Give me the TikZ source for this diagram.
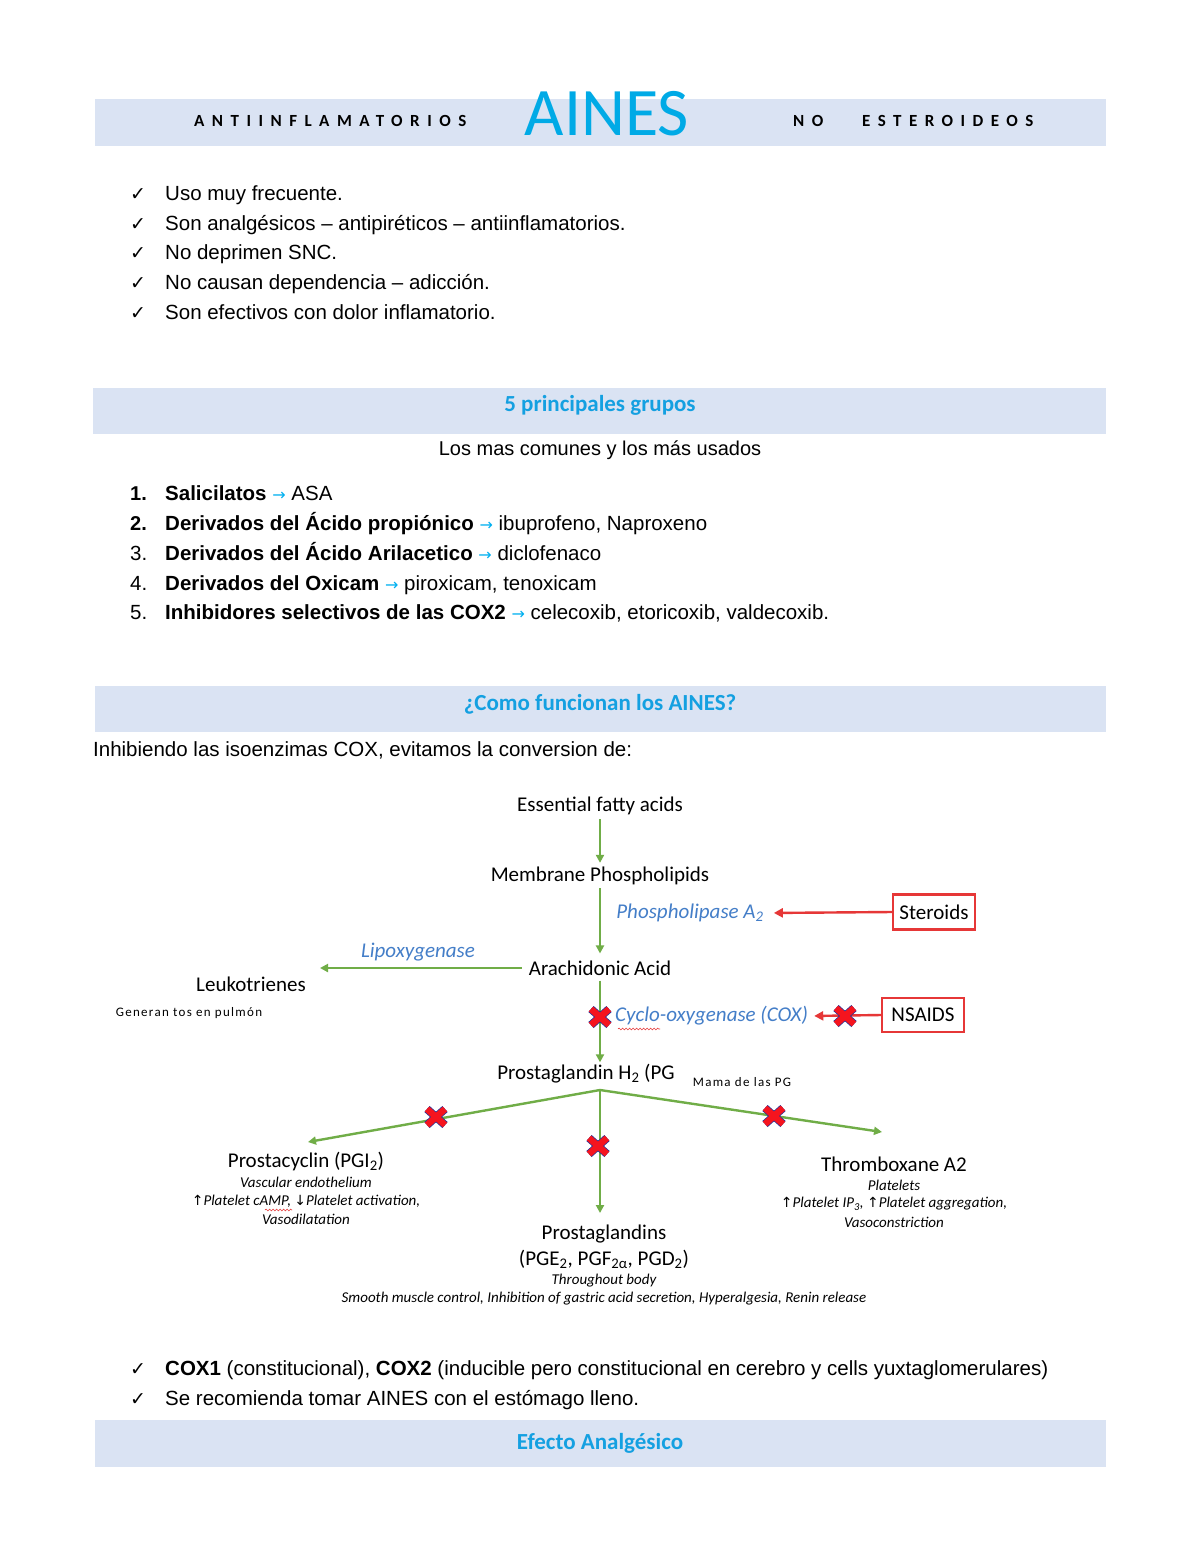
\documentclass[tikz,border=0pt]{standalone}
\usepackage{fontspec}
\setmainfont{Liberation Sans}
\newfontfamily\calf{Carlito}
\newfontfamily\calsp[LetterSpace=44]{Carlito}
\newfontfamily\calsm[LetterSpace=10]{Carlito}
\newfontfamily\symf{DejaVu Sans}
\usetikzlibrary{arrows.meta,decorations.pathmorphing}
\definecolor{barfill}{RGB}{218,227,243}
\definecolor{headblue}{RGB}{20,160,225}
\definecolor{ainescyan}{RGB}{0,170,230}
\definecolor{enzblue}{RGB}{68,126,200}
\definecolor{ggreen}{RGB}{112,173,71}
\definecolor{rred}{RGB}{230,55,55}
\definecolor{xred}{RGB}{245,20,30}
\definecolor{xblue}{RGB}{40,50,150}
\definecolor{arrcyan}{RGB}{0,176,240}
\newcommand{\fsz}[1]{\fontsize{#1}{#1}\selectfont}
\newcommand{\arr}{{\symf\color{arrcyan}\fsz{16}→}}
\newcommand{\redx}[1]{%
  \begin{scope}[shift={#1}]
    \draw[xblue, line width=8pt] (-9,-8)--(9,8) (-9,8)--(9,-8);
    \draw[xred, line width=6.5pt] (-9,-8)--(9,8) (-9,8)--(9,-8);
  \end{scope}}
\begin{document}
\begin{tikzpicture}[x=1pt,y=-1pt,
  bar/.style={fill=barfill, draw=none},
  txt/.style={inner sep=0pt, anchor=base west, font=\fsz{20.5}},
  chk/.style={inner sep=0pt, anchor=base, font=\symf\fsz{19}},
  head/.style={inner sep=0pt, anchor=base, font=\calf\bfseries\fsz{23}, text=headblue},
  lbl/.style={inner sep=2pt, font=\calf\fsz{21}},
  enz/.style={inner sep=2pt, font=\calf\itshape\fsz{21}, text=enzblue},
  sub/.style={inner sep=0pt, font=\calf\itshape\fsz{15}},
  garr/.style={draw=ggreen, line width=2.4pt, -{Triangle[length=8pt,width=8pt]}},
  rarr/.style={draw=rred, line width=2.4pt, -{Triangle[length=9pt,width=9pt]}},
  rbox/.style={draw=rred, line width=2.4pt, minimum width=82pt, minimum height=35pt, inner sep=0pt, font=\calf\fsz{21}},
  wavy/.style={draw=rred, line width=0.6pt, decorate, decoration={snake, amplitude=0.9pt, segment length=3.5pt}}
]
\useasboundingbox[fill=white] (0,0) rectangle (1200,1553);

% ---------- title bar ----------
\fill[bar] (95,99) rectangle (1106,146);
\node[inner sep=0pt, anchor=west, font=\calsp\bfseries\fsz{17}] (t1) at (194,121) {ANTIINFLAMATORIOS};
\node[inner sep=0pt, font=\calf\fsz{68}, text=ainescyan] (t2) at (607,114) {AINES};
\node[inner sep=0pt, anchor=west, font=\calsp\bfseries\fsz{17}] (t3) at (793,121) {NO};
\node[inner sep=0pt, anchor=west, font=\calsp\bfseries\fsz{17}] (t4) at (862,121) {ESTEROIDEOS};

% ---------- checklist ----------
\node[chk] (c1) at (138,200) {✓};
\node[chk] (c2) at (138,230) {✓};
\node[chk] (c3) at (138,259) {✓};
\node[chk] (c4) at (138,289) {✓};
\node[chk] (c5) at (138,319) {✓};
\node[txt] (l1) at (165,200) {Uso muy frecuente.};
\node[txt] (l2) at (165,230) {Son analgésicos – antipiréticos – antiinflamatorios.};
\node[txt] (l3) at (165,259) {No deprimen SNC.};
\node[txt] (l4) at (165,289) {No causan dependencia – adicción.};
\node[txt] (l5) at (165,319) {Son efectivos con dolor inflamatorio.};

% ---------- 5 principales grupos ----------
\fill[bar] (93,388) rectangle (1106,434);
\node[head] (h2) at (600,411) {5 principales grupos};
\node[inner sep=0pt, anchor=base, font=\fsz{20}] (sub2) at (600,455) {Los mas comunes y los más usados};
\node[txt, font=\bfseries\fsz{20}] (n1) at (130,500) {1.};
\node[txt, font=\bfseries\fsz{20}] (n2) at (130,530) {2.};
\node[txt] (n3) at (130,560) {3.};
\node[txt] (n4) at (130,590) {4.};
\node[txt] (n5) at (130,619) {5.};
\node[txt] (g1) at (165,500) {\textbf{Salicilatos} \arr{} ASA};
\node[txt] (g2) at (165,530) {\textbf{Derivados del Ácido propiónico} \arr{} ibuprofeno, Naproxeno};
\node[txt] (g3) at (165,560) {\textbf{Derivados del Ácido Arilacetico} \arr{} diclofenaco};
\node[txt] (g4) at (165,590) {\textbf{Derivados del Oxicam} \arr{} piroxicam, tenoxicam};
\node[txt] (g5) at (165,619) {\textbf{Inhibidores selectivos de las COX2} \arr{} celecoxib, etoricoxib, valdecoxib.};

% ---------- como funcionan ----------
\fill[bar] (95,686) rectangle (1106,732);
\node[head] (h3) at (600,710) {¿Como funcionan los AINES?};
\node[txt] (intro) at (93,756) {Inhibiendo las isoenzimas COX, evitamos la conversion de:};

% ---------- pathway diagram ----------
\node[lbl] (efa) at (600,806) {Essential fatty acids};
\node[lbl] (mp) at (600,876) {Membrane Phospholipids};
\node[enz] (pla) at (690,913) {Phospholipase A\textsubscript{2}};
\node[rbox] (ster) at (934,912) {Steroids};
\node[lbl] (aa) at (600,968) {Arachidonic Acid};
\node[enz] (lox) at (418,952) {Lipoxygenase};
\node[lbl] (leuk) at (251,984) {Leukotrienes};
\node[inner sep=0pt, font=\calsm\fsz{13}] (tos) at (189,1013) {Generan tos en pulmón};
\node[enz, anchor=west] (cox) at (613,1016) {Cyclo-oxygenase (COX)};
\node[rbox, minimum height=34pt] (nsa) at (923,1015) {NSAIDS};
\node[lbl] (pgh) at (586,1074) {Prostaglandin H\textsubscript{2} (PG};
\node[inner sep=0pt, font=\calsm\fsz{13}] (mama) at (742,1082) {Mama de las PG};

\node[lbl] (pgi) at (306,1161) {Prostacyclin (PGI\textsubscript{2})};
\node[sub] (pgi1) at (306,1182) {Vascular endothelium};
\node[sub] (pgi2) at (306,1201) {{\symf\upshape\fsz{14}↑}Platelet cAMP, {\symf\upshape\fsz{14}↓}Platelet activation,};
\node[sub] (pgi3) at (306,1219) {Vasodilatation};

\node[lbl] (txa) at (894,1164) {Thromboxane A2};
\node[sub] (txa1) at (894,1185) {Platelets};
\node[sub] (txa2) at (894,1204) {{\symf\upshape\fsz{14}↑}Platelet IP\textsubscript{3}, {\symf\upshape\fsz{14}↑}Platelet aggregation,};
\node[sub] (txa3) at (894,1222) {Vasoconstriction};

\node[lbl] (pgs) at (604,1234) {Prostaglandins};
\node[lbl] (pgs2) at (604,1259) {(PGE\textsubscript{2}, PGF\textsubscript{2α}, PGD\textsubscript{2})};
\node[sub] (pgs3) at (604,1281) {Throughout body};
\node[sub] (pgs4) at (604,1299) {Smooth muscle control, Inhibition of gastric acid secretion, Hyperalgesia, Renin release};

\coordinate (lt) at (320,968);
\coordinate (hub) at (600,1090);
\coordinate (tl) at (308,1142);
\coordinate (tb) at (600,1213);
\coordinate (tr) at (882,1132);

\draw[garr, shorten <=2pt, shorten >=2pt] (efa) -- (mp);
\draw[garr, shorten <=1pt, shorten >=5pt] (mp) -- (aa);
\draw[garr, shorten <=3pt] (aa.south) -- (aa.south |- pgh.north);
\draw[garr, shorten <=5pt] (aa.west) -- (lt);
\draw[rarr, shorten >=8pt] (ster.west) -- (pla.east);
\draw[rarr, shorten >=4pt] (nsa.west) -- (cox.east);
\draw[garr] (hub) -- (tl);
\draw[garr] (hub) -- (tb);
\draw[garr] (hub) -- (tr);

\draw[wavy] (618,1029) -- (660,1029);
\draw[wavy] (265,1210) -- (292,1210);

\redx{(600,1017)}
\redx{(845,1016)}
\redx{(436,1117)}
\redx{(598,1146)}
\redx{(774,1116)}

% ---------- bottom checks ----------
\node[chk] (c6) at (138,1375) {✓};
\node[chk] (c7) at (138,1405) {✓};
\node[txt] (b1) at (165,1375) {\textbf{COX1} (constitucional), \textbf{COX2} (inducible pero constitucional en cerebro y cells yuxtaglomerulares)};
\node[txt] (b2) at (165,1405) {Se recomienda tomar AINES con el estómago lleno.};

\fill[bar] (95,1420) rectangle (1106,1467);
\node[head] (h4) at (600,1449) {Efecto Analgésico};
\end{tikzpicture}
\end{document}
